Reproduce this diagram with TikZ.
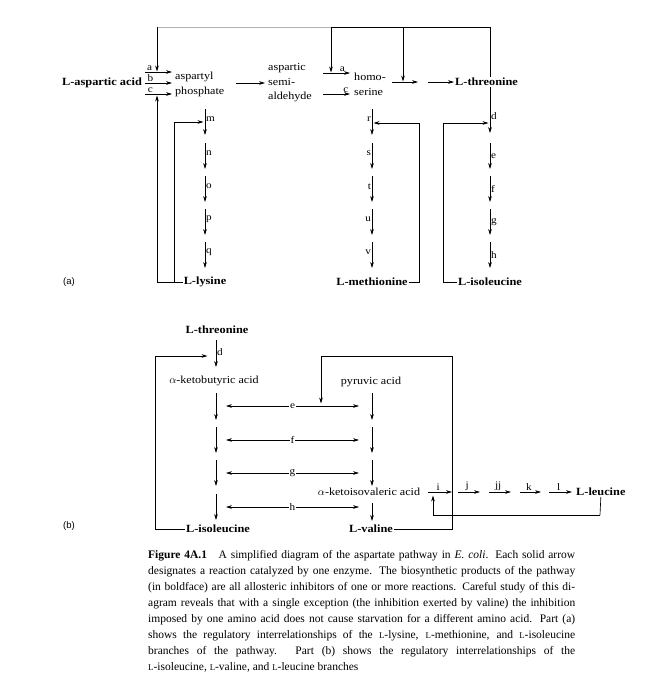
\documentclass[tikz,border=0pt]{standalone}
\usepackage{fontspec}
\setmainfont{Liberation Serif}
\newfontfamily\dfont[FakeStretch=1.12]{Liberation Serif}
\newfontfamily\sfont{Liberation Sans}
\usetikzlibrary{arrows.meta}
\newcommand\scL{{\fontsize{8.8}{8}\selectfont L}}
\tikzset{
  every node/.style={inner sep=1pt},
  lab/.style={font=\dfont\fontsize{10}{10}\selectfont, inner sep=0.8pt},
  prod/.style={font=\dfont\bfseries\fontsize{11}{12}\selectfont},
  met/.style={font=\dfont\fontsize{10.8}{14.5}\selectfont, align=left},
  panel/.style={font=\sfont\fontsize{9.5}{11}\selectfont},
  ln/.style={line width=0.65pt},
  rx/.style={ln, -{Stealth[length=6pt,width=3.6pt]}},
  dbl/.style={ln, {Stealth[length=6pt,width=3.6pt]}-{Stealth[length=6pt,width=3.6pt]}},
}
\begin{document}
\begin{tikzpicture}[x=1pt,y=-1pt]
\fill[white] (0,0) rectangle (656,694);
\useasboundingbox (0,0) rectangle (656,694);

% ================= panel (a) =================
\node[prod] (asp) at (102,83) {L-aspartic acid};
\node[met, anchor=west] (ap) at (174,84.5) {aspartyl\\phosphate};
\node[met, anchor=west] (asa) at (267,83) {aspartic\\semi-\\aldehyde};
\node[met, anchor=west] (hs) at (353,84.5) {homo-\\serine};
\node[prod, anchor=west] (thr) at (454,82) {L-threonine};
\node[prod] (lys) at (205,282) {L-lysine};
\node[prod] (met) at (372,282) {L-methionine};
\node[prod] (ile) at (490,282) {L-isoleucine};
\node[panel] (pa) at (69,282) {(a)};

% a, b, c from L-aspartic acid
\coordinate (a1s) at (145,72); \coordinate (a1e) at (172,72);
\coordinate (b1s) at (145,83); \coordinate (b1e) at (172,83);
\coordinate (c1s) at (145,94); \coordinate (c1e) at (172,94);
\draw[rx] (a1s) -- node[lab, above, pos=0.17] (la1) {a} (a1e);
\draw[rx] (b1s) -- node[lab, above, pos=0.2] (lb1) {b} (b1e);
\draw[rx] (c1s) -- node[lab, above, pos=0.2] (lc1) {c} (c1e);

% aspartyl phosphate -> aspartic semialdehyde
\coordinate (p1s) at (236,83); \coordinate (p1e) at (265,83);
\draw[rx] (p1s) -- (p1e);

% aspartic semialdehyde -> homoserine (a, c)
\coordinate (a2s) at (323,73); \coordinate (a2e) at (350,73);
\coordinate (c2s) at (323,94); \coordinate (c2e) at (350,94);
\draw[rx] (a2s) -- node[lab, above, pos=0.72] (la2) {a} (a2e);
\draw[rx] (c2s) -- node[lab, above, pos=0.85] (lc2) {c} (c2e);

% homoserine -> -> L-threonine
\coordinate (h1s) at (392,82); \coordinate (h1e) at (418,82);
\coordinate (h2s) at (428,82);
\draw[rx] (h1s) -- (h1e);
\draw[rx] (h2s) -- (thr.west);

% threonine inhibition lines
\coordinate (t1) at (157,27); \coordinate (t2) at (331,27);
\coordinate (t3) at (403,27); \coordinate (t4) at (490,27);
\coordinate (ia) at (157,71.5); \coordinate (ia2) at (331,72.5);
\coordinate (ih) at (403,81.5);
\draw[ln, black!30] (t1) -- (t2);
\draw[ln] (t2) -- (t4);
\draw[ln] (t4) -- (thr.north -| t4);
\draw[rx] (t1) -- (ia);
\draw[rx] (t2) -- (ia2);
\draw[rx] (t3) -- (ih);

% vertical reaction columns
\foreach \l/\ya/\yb [count=\i] in {m/109/135, n/143/169, o/176/202, p/209/235, q/242/268} {
  \coordinate (ka\i) at (205,\ya); \coordinate (kb\i) at (205,\yb);
  \draw[rx] (ka\i) -- node[lab, right, pos=0.4] (kl\i) {\l} (kb\i);
}
\foreach \l/\ya/\yb [count=\i] in {r/109/135, s/143/169, t/176/202, u/209/235, v/242/268} {
  \coordinate (ma\i) at (372,\ya); \coordinate (mb\i) at (372,\yb);
  \draw[rx] (ma\i) -- node[lab, left, pos=0.4] (ml\i) {\l} (mb\i);
}
\foreach \l/\ya/\yb [count=\i] in {d/99/133, e/143/169, f/176/202, g/209/235, h/242/268} {
  \coordinate (ia\i) at (490,\ya); \coordinate (ib\i) at (490,\yb);
  \draw[rx] (ia\i) -- node[lab, right, pos=0.5] (il\i) {\l} (ib\i);
}
\draw[ln] (thr.south -| ia1) -- (ia1);

% feedback: lysine
\coordinate (ic) at (157,95.5);
\coordinate (lk) at (174,282); \coordinate (im) at (203.5,122);
\draw[rx] (lys.west) -| (ic);
\draw[rx] (lk) |- (im);
% feedback: methionine
\coordinate (mk) at (419,282); \coordinate (ir) at (373.5,123);
\draw[rx] (met.east) -- (mk) |- (ir);
% feedback: isoleucine
\coordinate (ik) at (443,282); \coordinate (id) at (488.5,123);
\draw[rx] (ile.west) -- (ik) |- (id);

% ================= panel (b) =================
\node[prod] (thrb) at (217,330) {L-threonine};
\node[met] (akb) at (214,381) {$\alpha$-ketobutyric acid};
\node[met] (pyr) at (371,382) {pyruvic acid};
\node[met] (akiv) at (369,492) {$\alpha$-ketoisovaleric acid};
\node[prod] (ileb) at (218,529) {L-isoleucine};
\node[prod] (val) at (371,529) {L-valine};
\node[prod, anchor=west] (leu) at (575,492) {L-leucine};
\node[panel] (pb) at (69,526) {(b)};

% d
\coordinate (da) at (216,340); \coordinate (db) at (216,367);
\draw[rx] (da) -- node[lab, right, pos=0.45] (dl) {d} (db);

% parallel columns and shared enzymes
\foreach \l/\ya/\yb/\yr [count=\i] in {e/393/420/406, f/427/453/440, g/460/486/473, h/494/520/507} {
  \coordinate (la\i) at (216,\ya); \coordinate (lb\i) at (216,\yb);
  \draw[rx] (la\i) -- (lb\i);
  \coordinate (ea\i) at (226,\yr); \coordinate (eb\i) at (359,\yr);
  \draw[dbl] (ea\i) -- node[lab, fill=white, inner sep=1pt] (el\i) {\l} (eb\i);
}
\foreach \ya/\yb [count=\i] in {393/420, 427/453, 460/486, 503/521} {
  \coordinate (ra\i) at (372,\ya); \coordinate (rb\i) at (372,\yb);
  \draw[rx] (ra\i) -- (rb\i);
}

% leucine branch
\foreach \l/\xa/\xb [count=\i] in {i/428/452, j/458/480, jj/489/511, k/520/541, l/549/572} {
  \coordinate (ua\i) at (\xa,492); \coordinate (ub\i) at (\xb,492);
  \draw[rx] (ua\i) -- node[lab, above, pos=0.42] (ul\i) {\l} (ub\i);
}

% feedback: isoleucine -> d
\coordinate (fk) at (155,356); \coordinate (fd) at (207.5,356);
\draw[rx] (ileb.west) -| (fk) -- (fd);
% feedback: valine -> e
\coordinate (vk) at (452,356); \coordinate (ve) at (321,403.5);
\draw[rx] (val.east) -| (vk) -| (ve);
% feedback: leucine -> i
\coordinate (lf) at (600,515); \coordinate (li) at (433,495.5);
\draw[ln] (leu.south) -- (lf);
\draw[rx] (lf) -| (li);

% ================= caption =================
\node[anchor=north west, inner sep=0, text width=427pt, align=justify,
      font=\fontsize{11.5}{16}\selectfont] (cap) at (148,550) {%
\textbf{Figure 4A.1}\quad A simplified diagram of the aspartate pathway in \textit{E. coli}. Each solid arrow\linebreak
designates a reaction catalyzed by one enzyme. The biosynthetic products of the pathway\linebreak
(in boldface) are all allosteric inhibitors of one or more reactions. Careful study of this di-\linebreak
agram reveals that with a single exception (the inhibition exerted by valine) the inhibition\linebreak
imposed by one amino acid does not cause starvation for a different amino acid. Part (a)\linebreak
shows the regulatory interrelationships of the \scL-lysine, \scL-methionine, and \scL-isoleucine\linebreak
branches of the pathway. Part (b) shows the regulatory interrelationships of the\linebreak
\scL-isoleucine, \scL-valine, and \scL-leucine branches};
\end{tikzpicture}
\end{document}
